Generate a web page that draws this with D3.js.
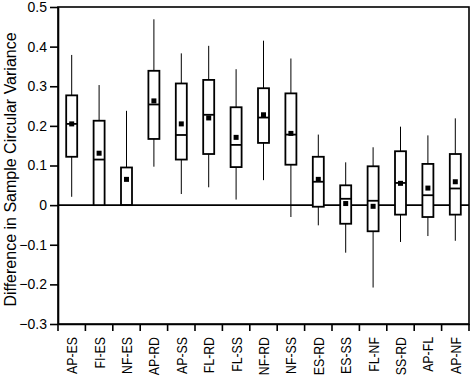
<!DOCTYPE html>
<html>
<head>
<meta charset="utf-8">
<script src="https://cdn.jsdelivr.net/npm/d3@7"></script>
<style>
  body { margin: 0; background: #fff; }
  svg { display: block; font-family: "Liberation Sans", Arial, sans-serif; }
  .axis path, .axis line { stroke: #000; stroke-width: 1.6; }
  .axis text { fill: #000; }
</style>
</head>
<body>
<div id="chart"></div>
<script>
  // values
  const categories = ["AP-ES", "FI-ES", "NF-ES", "AP-RD", "AP-SS", "FL-RD", "FL-SS", "NF-RD",
                      "NF-SS", "ES-RD", "ES-SS", "FL-NF", "SS-RD", "AP-FL", "AP-NF"];
  const whiskerHigh = [0.379, 0.303, 0.238, 0.469, 0.383, 0.402, 0.343, 0.415, 0.370, 0.178, 0.108, 0.146, 0.198, 0.176, 0.219];
  const q3          = [0.277, 0.213, 0.095, 0.339, 0.307, 0.316, 0.247, 0.295, 0.282, 0.122, 0.050, 0.098, 0.136, 0.104, 0.129];
  const medians     = [0.205, 0.115, 0.000, 0.254, 0.177, 0.228, 0.152, 0.221, 0.178, 0.059, 0.016, 0.011, 0.056, 0.025, 0.042];
  const means       = [0.205, 0.131, 0.065, 0.263, 0.205, 0.220, 0.171, 0.228, 0.181, 0.065, 0.004, -0.003, 0.055, 0.043, 0.059];
  const q1          = [0.122, 0.000, 0.000, 0.167, 0.115, 0.129, 0.096, 0.157, 0.102, -0.004, -0.047, -0.066, -0.024, -0.030, -0.024];
  const whiskerLow  = [0.021, 0.000, 0.000, 0.097, 0.028, 0.045, 0.014, 0.063, -0.030, -0.051, -0.120, -0.208, -0.093, -0.078, -0.090];
  const yTicks = [-0.3, -0.2, -0.1, 0, 0.1, 0.2, 0.3, 0.4, 0.5];

  const W = 474, H = 379;
  const margin = { top: 7, right: 5, bottom: 55, left: 58 };
  const BOX_W = 11;

  const rows = categories.map((c, i) => ({
    cat: c, hi: whiskerHigh[i], q3: q3[i], med: medians[i],
    mean: means[i], q1: q1[i], lo: whiskerLow[i]
  }));

  const svg = d3.select("#chart").append("svg")
    .attr("width", W).attr("height", H);

  const x = d3.scaleBand()
    .domain(categories)
    .range([margin.left, W - margin.right]);

  const y = d3.scaleLinear()
    .domain([-0.3, 0.5])
    .range([H - margin.bottom, margin.top]);

  // frame (top + right)
  svg.append("rect")
    .attr("x", margin.left).attr("y", margin.top)
    .attr("width", W - margin.right - margin.left)
    .attr("height", H - margin.bottom - margin.top)
    .attr("fill", "none").attr("stroke", "#000").attr("stroke-width", 1.6);

  // zero line
  svg.append("line")
    .attr("x1", margin.left).attr("x2", W - margin.right)
    .attr("y1", y(0)).attr("y2", y(0))
    .attr("stroke", "#000").attr("stroke-width", 1.8);

  const g = svg.append("g").selectAll("g")
    .data(rows).join("g")
    .attr("transform", d => `translate(${x(d.cat) + x.bandwidth() / 2},0)`);

  g.append("line")
    .attr("y1", d => y(d.hi)).attr("y2", d => y(d.lo))
    .attr("stroke", "#000").attr("stroke-width", 1);

  g.append("rect")
    .attr("x", -BOX_W / 2).attr("width", BOX_W)
    .attr("y", d => y(d.q3)).attr("height", d => y(d.q1) - y(d.q3))
    .attr("fill", "#fff").attr("stroke", "#000").attr("stroke-width", 1.8);

  g.append("line")
    .attr("x1", -BOX_W / 2).attr("x2", BOX_W / 2)
    .attr("y1", d => y(d.med)).attr("y2", d => y(d.med))
    .attr("stroke", "#000").attr("stroke-width", 1.8);

  g.append("rect")
    .attr("x", -2.5).attr("width", 5)
    .attr("y", d => y(d.mean) - 2.5).attr("height", 5)
    .attr("fill", "#000");

  // axes
  const yAxis = svg.append("g").attr("class", "axis")
    .attr("transform", `translate(${margin.left},0)`)
    .call(d3.axisLeft(y).tickValues(yTicks).tickSize(8).tickSizeOuter(0)
      .tickFormat(d => d === 0 ? "0" : d3.format(".1f")(d)));
  yAxis.selectAll("text").attr("font-size", 14).attr("x", -11);

  const xAxis = svg.append("g").attr("class", "axis")
    .attr("transform", `translate(0,${H - margin.bottom})`)
    .call(d3.axisBottom(x).tickSize(0).tickSizeOuter(0));
  xAxis.selectAll(".tick line").remove();
  // condensed look: squeeze the rotated labels along their baseline
  xAxis.selectAll("text")
    .attr("font-size", 15)
    .attr("text-anchor", "end")
    .attr("x", 0).attr("y", 0).attr("dy", "0.36em")
    .attr("transform", "translate(0,13) rotate(-90) scale(0.82,1)");

  // tick marks at band boundaries
  const bounds = categories.map(c => x(c)).concat([x.range()[1]]);
  xAxis.selectAll(".bound").data(bounds).join("line")
    .attr("x1", d => d).attr("x2", d => d)
    .attr("y1", 0).attr("y2", 7)
    .attr("stroke", "#000").attr("stroke-width", 1.6);

  svg.append("text")
    .attr("transform", `translate(16,${(margin.top + H - margin.bottom) / 2 + 4}) rotate(-90)`)
    .attr("text-anchor", "middle")
    .attr("font-size", 16)
    .text("Difference in Sample Circular Variance");
</script>
</body>
</html>
